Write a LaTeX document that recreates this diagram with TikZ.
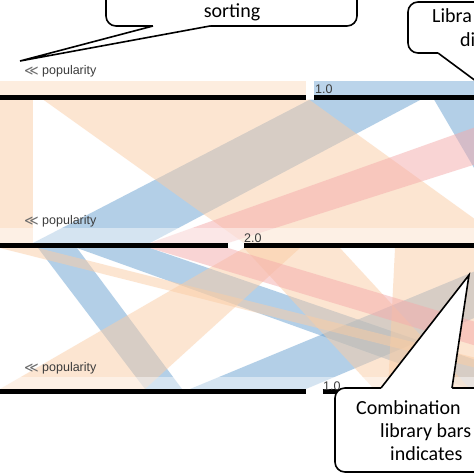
\documentclass[tikz,border=0pt]{standalone}
\usepackage{fontspec}
\setmainfont{Carlito}
\newfontfamily\arialf{Liberation Sans}
\newfontfamily\symf{DejaVu Sans}
\definecolor{peachC}{RGB}{251,205,165}
\definecolor{blueC}{RGB}{105,161,209}
\definecolor{pinkC}{RGB}{245,171,171}
\definecolor{txtC}{RGB}{60,60,60}
\definecolor{symC}{RGB}{110,110,110}
\begin{document}
\begin{tikzpicture}[x=1pt,y=-1pt,
  ribblue/.style={fill=blueC,fill opacity=0.5},
  ribpeach/.style={fill=peachC,fill opacity=0.5},
  ribpink/.style={fill=pinkC,fill opacity=0.5},
  barline/.style={line width=5pt},
  bandwhite/.style={fill=white,fill opacity=0.45},
  lbl/.style={anchor=base west,inner sep=0pt,text=txtC,font=\arialf\fontsize{12.5}{14}\selectfont},
  sym/.style={anchor=base west,inner sep=0pt,text=symC,font=\symf\fontsize{14}{16}\selectfont},
  callout/.style={fill=white,draw=black,line width=1.6pt,rounded corners=10pt},
  pointer/.style={line width=1.6pt},
  ctext/.style={anchor=base west,inner sep=0pt,font=\fontsize{20}{24}\selectfont}]
\useasboundingbox (0,0) rectangle (474,474);
\clip (0,0) rectangle (474,474);
\fill[white] (0,0) rectangle (474,474);
% ---------- ribbons between bar 1 and bar 2 ----------
\def\ya{99.5} \def\yb{243}
\fill[ribblue] (310,\ya) -- (421,\ya) -- (150,\yb) -- (33,\yb) -- cycle;
\fill[ribblue] (434,\ya) -- (620,\ya) -- (760,\yb) -- (518,\yb) -- cycle;
\fill[ribpeach] (0,\ya) -- (33,\ya) -- (33,\yb) -- (0,\yb) -- cycle;
\fill[ribpeach] (43,\ya) -- (309,\ya) -- (508,\yb) -- (244,\yb) -- cycle;
\fill[ribpink] (553,\ya) -- (679,\ya) -- (228,\yb) -- (150,\yb) -- cycle;
% ---------- ribbons between bar 2 and bar 3 ----------
\def\yc{248} \def\yd{389}
\fill[ribblue] (38,\yc) -- (77,\yc) -- (182,\yd) -- (145,\yd) -- cycle;
\fill[ribblue] (77,\yc) -- (150,\yc) -- (560,\yd) -- (470,\yd) -- cycle;
\fill[ribblue] (531,\yc) -- (640,\yc) -- (306,\yd) -- (190,\yd) -- cycle;
\fill[ribpeach] (0,\yc) -- (38,\yc) -- (600,\yd) -- (560,\yd) -- cycle;
\fill[ribpeach] (244,\yc) -- (300,\yc) -- (145,\yd) -- (0,\yd) -- cycle;
\fill[ribpeach] (244,\yc) -- (340,\yc) -- (470,\yd) -- (374,\yd) -- cycle;
\fill[ribpeach] (395,\yc) -- (508,\yc) -- (500,\yd) -- (388,\yd) -- cycle;
\fill[ribpink] (150,\yc) -- (228,\yc) -- (700,\yd) -- (620,\yd) -- cycle;
% ---------- bar bands ----------
\fill[peachC,fill opacity=0.35] (0,80.5) rectangle (306,94.5);
\fill[blueC,fill opacity=0.45] (314,80.5) rectangle (474,94.5);
\fill[bandwhite] (0,228) rectangle (474,243);
\fill[bandwhite] (0,377) rectangle (474,389);
% ---------- bars ----------
\draw[barline] (0,97) -- (306,97);
\draw[barline] (314,97) -- (474,97);
\draw[barline] (0,245.5) -- (228,245.5);
\draw[barline] (244,245.5) -- (474,245.5);
\draw[barline] (0,391.5) -- (306,391.5);
\draw[barline] (322.5,391.5) -- (474,391.5);
% ---------- labels ----------
\node[sym] (s1) at (24,75) {≪};
\node[lbl] (p1) at (42,74) {popularity};
\node[sym] (s2) at (24,225) {≪};
\node[lbl] (p2) at (42,224) {popularity};
\node[sym] (s3) at (24,372) {≪};
\node[lbl] (p3) at (42,371) {popularity};
\node[lbl] (v1) at (315,93) {1.0};
\node[lbl] (v2) at (244,242) {2.0};
\node[lbl] (v3) at (323,390) {1.0};
% ---------- callouts ----------
\draw[callout] (106,-40) rectangle (357,26);
\fill[white] (153,26) -- (20,61) -- (210,26) -- (210,21) -- (153,21) -- cycle;
\draw[pointer] (153,26) -- (20,61) -- (210,26);
\node[ctext,anchor=base] (t1) at (232,17.5) {sorting};

\draw[callout] (408,2) rectangle (640,53);
\fill[white] (438,53) -- (492,93) -- (510,53) -- (510,48) -- (438,48) -- cycle;
\draw[pointer] (438,53) -- (492,93) -- (510,53);
\node[ctext] (t2a) at (432,22) {Libra};
\node[ctext] (t2b) at (460,46) {di};

\draw[callout] (335,388) rectangle (640,472);
\fill[white] (381,388) -- (469,275) -- (452,388) -- (452,393) -- (381,393) -- cycle;
\draw[pointer] (381,388) -- (469,275) -- (452,388);
\node[ctext] (t3a) at (356,414) {Combination};
\node[ctext] (t3b) at (380,437) {library bars};
\node[ctext] (t3c) at (390,460) {indicates};
\end{tikzpicture}
\end{document}
